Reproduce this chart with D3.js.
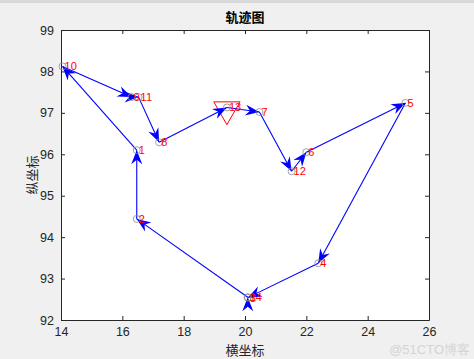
<!DOCTYPE html>
<html>
<head>
<meta charset="utf-8">
<script src="https://cdn.jsdelivr.net/npm/d3@7"></script>
<style>
  body { margin: 0; background: #f0f0f0; }
  svg { display: block; }
</style>
</head>
<body>
<script>
(function(){
   var width = 474;
   var height = 359;
   var margin = {top: 30, right: 45, bottom: 39, left: 61};

   // burma14 city coordinates
   var cityIds = [1, 2, 3, 4, 5, 6, 7, 8, 9, 10, 11, 12, 13, 14];
   var cityX = [16.47, 16.47, 20.09, 22.39, 25.23, 22.00, 20.47, 17.20, 16.30, 14.05, 16.53, 21.52, 19.41, 20.09];
   var cityY = [96.10, 94.44, 92.54, 93.37, 97.24, 96.05, 97.02, 96.29, 97.38, 98.12, 97.38, 95.59, 97.13, 92.55];
   // visiting order
   var route = [1, 10, 9, 11, 8, 13, 7, 12, 6, 5, 4, 3, 14, 2, 1];
   var startCity = 13;
   var xTicks = [14, 16, 18, 20, 22, 24, 26];
   var yTicks = [92, 93, 94, 95, 96, 97, 98, 99];

   var cities = cityIds.map(function(id, i){ return {id: id, x: cityX[i], y: cityY[i]}; });
   function city(id){ return cities[id - 1]; }

   var svg = d3.select("body").append("svg")
        .attr("width", width)
        .attr("height", height);

   svg.append("rect").attr("x", 0).attr("y", 0).attr("width", width).attr("height", 3)
        .attr("fill", "#d9d9d9");

   var xScale = d3.scaleLinear().domain([14, 26]).range([margin.left, width - margin.right]);
   var yScale = d3.scaleLinear().domain([92, 99]).range([height - margin.bottom, margin.top]);

   svg.append("rect")
        .attr("x", xScale(14)).attr("y", yScale(99))
        .attr("width", xScale(26) - xScale(14))
        .attr("height", yScale(92) - yScale(99))
        .attr("fill", "#ffffff");

   var font = "Helvetica, Arial, 'Liberation Sans', sans-serif";
   var axisColor = "#262626";
   var fmt = d3.format("d");

   function styleAxis(g){
       g.select(".domain").attr("stroke", axisColor);
       g.selectAll(".tick line").attr("stroke", axisColor);
       g.selectAll(".tick text").attr("fill", axisColor)
            .style("font-family", font).style("font-size", "12.5px");
   }

   svg.append("g")
        .attr("transform", "translate(0," + yScale(92) + ")")
        .call(d3.axisBottom(xScale).tickValues(xTicks).tickFormat(fmt).tickSize(-4).tickSizeOuter(0).tickPadding(7))
        .call(styleAxis);
   svg.append("g")
        .attr("transform", "translate(" + xScale(14) + ",0)")
        .call(d3.axisLeft(yScale).tickValues(yTicks).tickFormat(fmt).tickSize(-4).tickSizeOuter(0).tickPadding(7))
        .call(styleAxis);
   svg.append("g")
        .attr("transform", "translate(0," + yScale(99) + ")")
        .call(d3.axisTop(xScale).tickValues(xTicks).tickSize(-4).tickSizeOuter(0).tickFormat(""))
        .call(styleAxis);
   svg.append("g")
        .attr("transform", "translate(" + xScale(26) + ",0)")
        .call(d3.axisRight(yScale).tickValues(yTicks).tickSize(-4).tickSizeOuter(0).tickFormat(""))
        .call(styleAxis);

   // start marker
   var s = city(startCity);
   var tri = d3.symbol().type(d3.symbolTriangle).size(300)();
   svg.append("path")
        .attr("d", tri)
        .attr("transform", "translate(" + xScale(s.x) + "," + (yScale(s.y) + 2) + ") rotate(180)")
        .attr("fill", "none")
        .attr("stroke", "#ff0000")
        .attr("stroke-width", 1);

   // route segments
   var segs = d3.pairs(route).map(function(p){ return [city(p[0]), city(p[1])]; });
   svg.append("g").selectAll("line").data(segs).join("line")
        .attr("x1", function(d){ return xScale(d[0].x); })
        .attr("y1", function(d){ return yScale(d[0].y); })
        .attr("x2", function(d){ return xScale(d[1].x); })
        .attr("y2", function(d){ return yScale(d[1].y); })
        .attr("stroke", "#0000ff")
        .attr("stroke-width", 1.1);

   // arrow heads at segment ends
   svg.append("g").selectAll("path").data(segs).join("path")
        .attr("d", "M0,0 L-14,-5.5 L-9.5,0 L-14,5.5 Z")
        .attr("transform", function(d){
            var x1 = xScale(d[0].x), y1 = yScale(d[0].y);
            var x2 = xScale(d[1].x), y2 = yScale(d[1].y);
            var a = Math.atan2(y2 - y1, x2 - x1) * 180 / Math.PI;
            return "translate(" + x2 + "," + y2 + ") rotate(" + a + ")";
        })
        .attr("fill", "#0000ff");

   // city markers
   svg.append("g").selectAll("circle").data(cities).join("circle")
        .attr("cx", function(d){ return xScale(d.x); })
        .attr("cy", function(d){ return yScale(d.y); })
        .attr("r", 3.5)
        .attr("fill", "none")
        .attr("stroke", "#8a8a8a")
        .attr("stroke-width", 0.8);

   // city labels
   svg.append("g").selectAll("text").data(cities).join("text")
        .attr("x", function(d){ return xScale(d.x) + 2; })
        .attr("y", function(d){ return yScale(d.y) + 4; })
        .attr("fill", "#ff0000")
        .style("font-family", font)
        .style("font-size", "11px")
        .text(function(d){ return d.id; });

   var cjk = "'Noto Sans CJK SC', sans-serif";
   svg.append("text")
        .attr("x", (xScale(14) + xScale(26)) / 2).attr("y", 22)
        .attr("text-anchor", "middle")
        .attr("fill", "#000")
        .style("font-family", cjk).style("font-size", "13px").style("font-weight", "bold")
        .text("轨迹图");
   svg.append("text")
        .attr("x", (xScale(14) + xScale(26)) / 2).attr("y", 355)
        .attr("text-anchor", "middle")
        .attr("fill", axisColor)
        .style("font-family", cjk).style("font-size", "13px")
        .text("横坐标");
   svg.append("text")
        .attr("transform", "translate(37," + ((yScale(92) + yScale(99)) / 2) + ") rotate(-90)")
        .attr("text-anchor", "middle")
        .attr("fill", axisColor)
        .style("font-family", cjk).style("font-size", "13px")
        .text("纵坐标");

   svg.append("text")
        .attr("x", 470).attr("y", 354)
        .attr("text-anchor", "end")
        .attr("fill", "#d4d4d4")
        .style("font-family", font).style("font-size", "13px")
        .text("@51CTO博客");
})();
</script>
</body>
</html>
